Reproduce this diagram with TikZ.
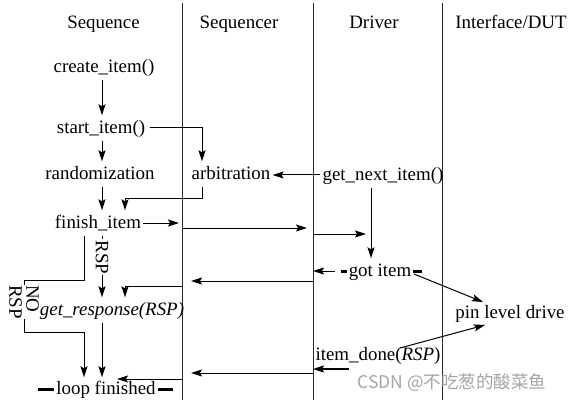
\documentclass[tikz,border=0pt]{standalone}
\usepackage{fontspec}
\setmainfont{Liberation Serif}
\newfontfamily\cjkfont{Noto Sans CJK SC}
\usetikzlibrary{arrows.meta,calc}
\definecolor{wmgray}{RGB}{165,165,165}
\begin{document}
\begin{tikzpicture}[x=1pt,y=-1pt,
  every node/.style={font=\fontsize{18.9}{22}\selectfont},
  lbl/.style={inner xsep=2pt, inner ysep=4pt, text height=14pt, text depth=3pt},
  arr/.style={-{Stealth[length=11pt,width=7pt,inset=2pt]}, line width=1pt},
  lane/.style={line width=1pt, black!85},
  bar/.style={line width=3pt},
  tag/.style={fill=white, inner sep=1pt, rotate=-90}
]
\useasboundingbox[fill=white] (0,0) rectangle (574,404);

% lanes
\coordinate (L1t) at (182,3);   \coordinate (L1b) at (182,400);
\coordinate (L2t) at (313,3);   \coordinate (L2b) at (313,400);
\coordinate (L3t) at (442,3);   \coordinate (L3b) at (442,400);
\draw[lane] (L1t) -- (L1b);
\draw[lane] (L2t) -- (L2b);
\draw[lane] (L3t) -- (L3b);

% headers
\node[lbl] (h1) at (103.5,23.5) {Sequence};
\node[lbl] (h2) at (239,23.5) {Sequencer};
\node[lbl] (h3) at (374,23.5) {Driver};
\node[lbl] (h4) at (511,23.5) {Interface/DUT};

% nodes
\node[lbl] (ci) at (104,67) {create\_item()};
\node[lbl] (si) at (101,128) {start\_item()};
\node[lbl] (rz) at (100,174) {randomization};
\node[lbl] (fi) at (98,223) {finish\_item};
\node[lbl] (ar) at (231,174) {arbitration};
\node[lbl] (gn) at (383,175) {get\_next\_item()};
\node[lbl] (gi) at (380,271) {got item};
\node[lbl] (gr) at (112,310) {\textit{get\_response(RSP)}};
\node[lbl] (pl) at (510,313) {pin level drive};
\node[lbl] (id) at (378,355) {item\_done(\textit{RSP})};
\node[lbl, inner ysep=3pt] (lf) at (106,389) {loop finished};

% helper x positions
\coordinate (xm) at (102,0);
\coordinate (xb) at (125,0);
\coordinate (xn) at (84,0);
\coordinate (xa) at (202,0);
\coordinate (xd) at (371,0);

% sequence chain
\draw[arr] (ci.south -| xm) -- (si.north -| xm);
\draw[arr] (si.south -| xm) -- (rz.north -| xm);
\draw[arr] (rz.south -| xm) -- (fi.north -| xm);

% start_item -> arbitration
\draw[arr] ([xshift=3pt]si.east) -| (ar.north -| xa);
% arbitration -> finish_item
\coordinate (c1) at (125,198);
\draw[arr] (ar.south -| xa) |- (c1) -- (fi.north -| c1);
% get_next_item -> arbitration
\draw[arr] (gn.west) -- (gn.west -| ar.east);

% finish_item -> sequencer -> driver
\draw[arr, shorten >=3pt] (fi.east) -- (fi.east -| L1t);
\coordinate (a1s) at (183,228); \coordinate (a1e) at (307,228);
\draw[arr] (a1s) -- (a1e);
\coordinate (a2s) at (313,234); \coordinate (a2e) at (366,234);
\draw[arr] (a2s) -- (a2e);

% get_next_item -> got item
\draw[arr] (gn.south -| xd) -- (gi.north -| xd);

% got item
\coordinate (g1) at (335,271);
\draw[arr] (g1) -- (g1 -| L2t);
\draw[bar] (gi.west) -- ++(-6,0);
\draw[bar] (gi.east) -- ++(9,0);
\coordinate (gA) at (414,274); \coordinate (pA) at (483,302);
\draw[arr] (gA) -- (pA);

% item_done
\coordinate (iA) at (400,348); \coordinate (pB) at (485,325);
\draw[arr] (iA) -- (pB);
\coordinate (i1) at (349,369);
\draw[arr, line width=1.5pt] (i1) -- (i1 -| L2t);

% driver -> sequencer responses
\coordinate (r1s) at (313,281); \coordinate (r1e) at (191,281);
\draw[arr] (r1s) -- (r1e);
\coordinate (r2s) at (182,286);
\draw[arr] (r2s) -| (gr.north -| xb);
\coordinate (r3s) at (313,373); \coordinate (r3e) at (191,373);
\draw[arr] (r3s) -- (r3e);
\coordinate (r4s) at (182,379); \coordinate (r4e) at (117,379);
\draw[arr] (r4s) -- (r4e);

% finish_item -> get_response (RSP)
\draw[arr] (fi.south -| xm) -- node[tag, pos=0.35] {RSP} (gr.north -| xm);

% NO RSP path
\coordinate (n1) at (24,280);
\coordinate (n2) at (24,332);
\draw[arr] (fi.south -| xn) |- (n1) -- (n2) -| (lf.north -| xn);
\node[tag, align=left, anchor=west, inner sep=0pt, font=\fontsize{18.9}{17}\selectfont] (nr) at (24,285) {NO\\RSP};

% get_response -> loop finished
\draw[arr] (gr.south -| xm) -- (lf.north -| xm);

% loop finished bars
\draw[bar] (lf.west) -- ++(-16,0);
\draw[bar] (lf.east) -- ++(15,0);

% watermark
\node[font=\cjkfont\fontsize{17.5}{20}\selectfont, text=wmgray, inner sep=0pt] (wm) at (452,383) {CSDN @不吃葱的酸菜鱼};
\end{tikzpicture}
\end{document}
